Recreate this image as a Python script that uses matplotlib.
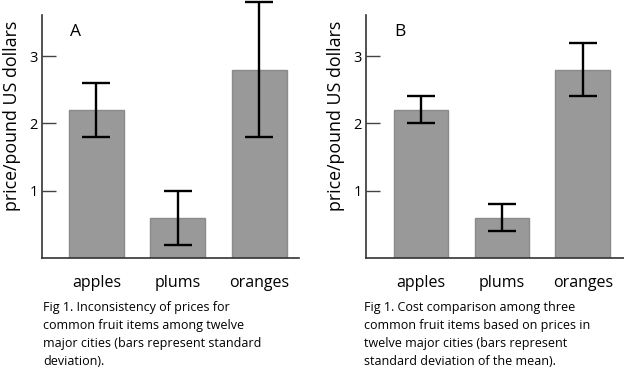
import matplotlib
matplotlib.use("Agg")
import matplotlib.pyplot as plt

plt.rcParams['font.family'] = ['Open Sans', 'DejaVu Sans']

fruits = ["apples", "plums", "oranges"]
mean_price = [2.2, 0.6, 2.8]
err_a = [0.4, 0.4, 1.0]   # standard deviation
err_b = [0.2, 0.2, 0.4]   # standard deviation of the mean
yticks = [1, 2, 3]

caption_a = ("Fig 1. Inconsistency of prices for\n"
             "common fruit items among twelve\n"
             "major cities (bars represent standard\n"
             "deviation).")
caption_b = ("Fig 1. Cost comparison among three\n"
             "common fruit items based on prices in\n"
             "twelve major cities (bars represent\n"
             "standard deviation of the mean).")

W, H = 624, 370
fig = plt.figure(figsize=(W / 100, H / 100), dpi=100)


def px_axes(x0, y0, x1, y1):
    # axes box given in pixel coords (top-left origin)
    return fig.add_axes([x0 / W, 1 - y1 / H, (x1 - x0) / W, (y1 - y0) / H])


def draw_panel(ax, errs, letter, xlim):
    x = list(range(len(fruits)))
    ax.bar(x, mean_price, width=0.675, color="#999999", edgecolor="#8a8a8a", linewidth=1)
    ax.errorbar(x, mean_price, yerr=errs, fmt="none", ecolor="black",
                elinewidth=1.7, capsize=10, capthick=1.7, clip_on=False)
    ax.set_xlim(*xlim)
    ax.set_ylim(0, 3.61)
    ax.set_yticks(yticks)
    ax.set_yticklabels([str(t) for t in yticks], fontsize=10.5)
    ax.set_xticks(x)
    ax.set_xticklabels(fruits, fontsize=11.5)
    ax.tick_params(axis="y", direction="in", length=10, width=1, color="#444444", pad=3)
    ax.tick_params(axis="x", length=0, pad=12)
    for s in ["top", "right"]:
        ax.spines[s].set_visible(False)
    for s in ["left", "bottom"]:
        ax.spines[s].set_color("#333333")
        ax.spines[s].set_linewidth(1.2)
    ax.set_ylabel("price/pound US dollars", fontsize=12.8)
    ax.yaxis.set_label_coords(-0.08, 0.585)
    ax.text(0.11, 0.93, letter, transform=ax.transAxes, fontsize=12.5, va="center")


ax_a = px_axes(42, 15, 299, 258)
draw_panel(ax_a, err_a, "A", (-0.67, 2.49))

ax_b = px_axes(366, 15, 624, 258)
draw_panel(ax_b, err_b, "B", (-0.68, 2.51))

fig.text(43 / W, 1 - 301 / H, caption_a, fontsize=9, va="top", ha="left", linespacing=1.5)
fig.text(364 / W, 1 - 301 / H, caption_b, fontsize=9, va="top", ha="left", linespacing=1.5)

fig.savefig("out.png", dpi=100)
